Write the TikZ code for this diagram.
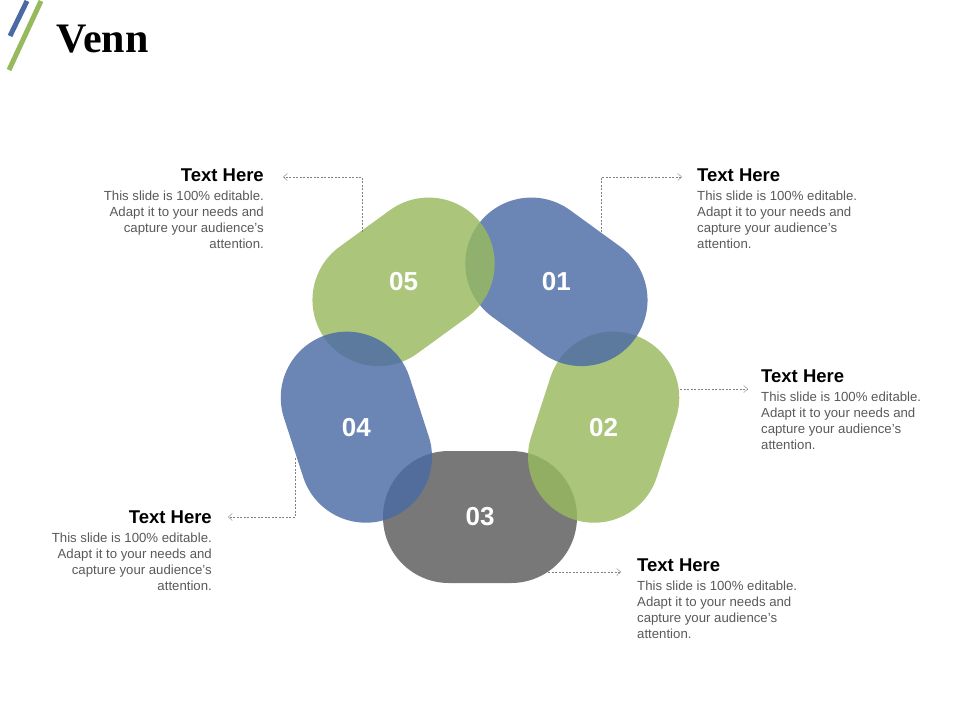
\documentclass[tikz,border=0pt]{standalone}
\usepackage{fontspec}
\setmainfont{Liberation Sans}
\newfontfamily\titlefont{Liberation Serif}
\usetikzlibrary{arrows.meta}
\definecolor{vblue}{HTML}{4A6AA5}
\definecolor{vgreen}{HTML}{98BA5E}
\definecolor{vgray}{HTML}{5A5A5A}
\definecolor{vtext}{HTML}{595959}
\tikzset{
  petal/.style={fill opacity=0.82,draw=none},
  num/.style={text=white,font=\bfseries\fontsize{26}{28}\selectfont},
  head/.style={font=\bfseries\fontsize{18.5}{20}\selectfont,inner xsep=0pt},
  body/.style={text=vtext,font=\fontsize{13.2}{16}\selectfont,inner sep=0pt},
  lead/.style={draw=gray,dashed,dash pattern=on 2pt off 1.5pt,-{Straight Barb[length=4pt,width=7pt]}}
}
\begin{document}
\begin{tikzpicture}[x=1pt,y=-1pt]
\useasboundingbox (0,0) rectangle (960,720);
% logo and title
\draw[vblue,line width=5pt] (10,36) -- (27,1);
\draw[vgreen,line width=5pt] (9,70) -- (41,1);
\node[anchor=base west,font=\titlefont\bfseries\fontsize{42}{44}\selectfont] (title) at (53,52) {Venn};
% petals
\foreach \k/\c in {0/vgray,1/vgreen,2/vblue,3/vgreen,4/vblue}{
  \begin{scope}[shift={(480,387)},rotate=72*\k]
    \fill[petal,\c,rounded corners=65.9] (-97,64) rectangle (97,196);
    \coordinate (p\k) at (0,130);
  \end{scope}
}
\node[num] at (p0) {03};
\node[num] at (p1) {02};
\node[num] at (p2) {01};
\node[num] at (p3) {05};
\node[num] at (p4) {04};
% top left
\node[head,anchor=base east] (h5) at (264,181) {Text Here};
\node[body,anchor=north east,align=right] (b5) at (264,191) {This slide is 100\% editable.\\Adapt it to your needs and\\capture your audience's\\attention.};
\coordinate (s5) at (362,232);
\draw[lead] (s5) |- (283,177);
% top right
\node[head,anchor=base west] (h1) at (697,181) {Text Here};
\node[body,anchor=north west,align=left] (b1) at (697,191) {This slide is 100\% editable.\\Adapt it to your needs and\\capture your audience's\\attention.};
\coordinate (s1) at (601,232);
\draw[lead] (s1) |- (682,177);
% right
\node[head,anchor=base west] (h2) at (761,382) {Text Here};
\node[body,anchor=north west,align=left] (b2) at (761,392) {This slide is 100\% editable.\\Adapt it to your needs and\\capture your audience's\\attention.};
\coordinate (s2) at (680,389);
\draw[lead] (s2) -- (748,389);
% bottom left
\node[head,anchor=base east] (h4) at (212,523) {Text Here};
\node[body,anchor=north east,align=right] (b4) at (212,533) {This slide is 100\% editable.\\Adapt it to your needs and\\capture your audience's\\attention.};
\coordinate (s4) at (295,458);
\draw[lead] (s4) |- (228,517);
% bottom right
\node[head,anchor=base west] (h3) at (637,571) {Text Here};
\node[body,anchor=north west,align=left] (b3) at (637,581) {This slide is 100\% editable.\\Adapt it to your needs and\\capture your audience's\\attention.};
\coordinate (s3) at (548,572);
\draw[lead] (s3) -- (621,572);
\end{tikzpicture}
\end{document}
